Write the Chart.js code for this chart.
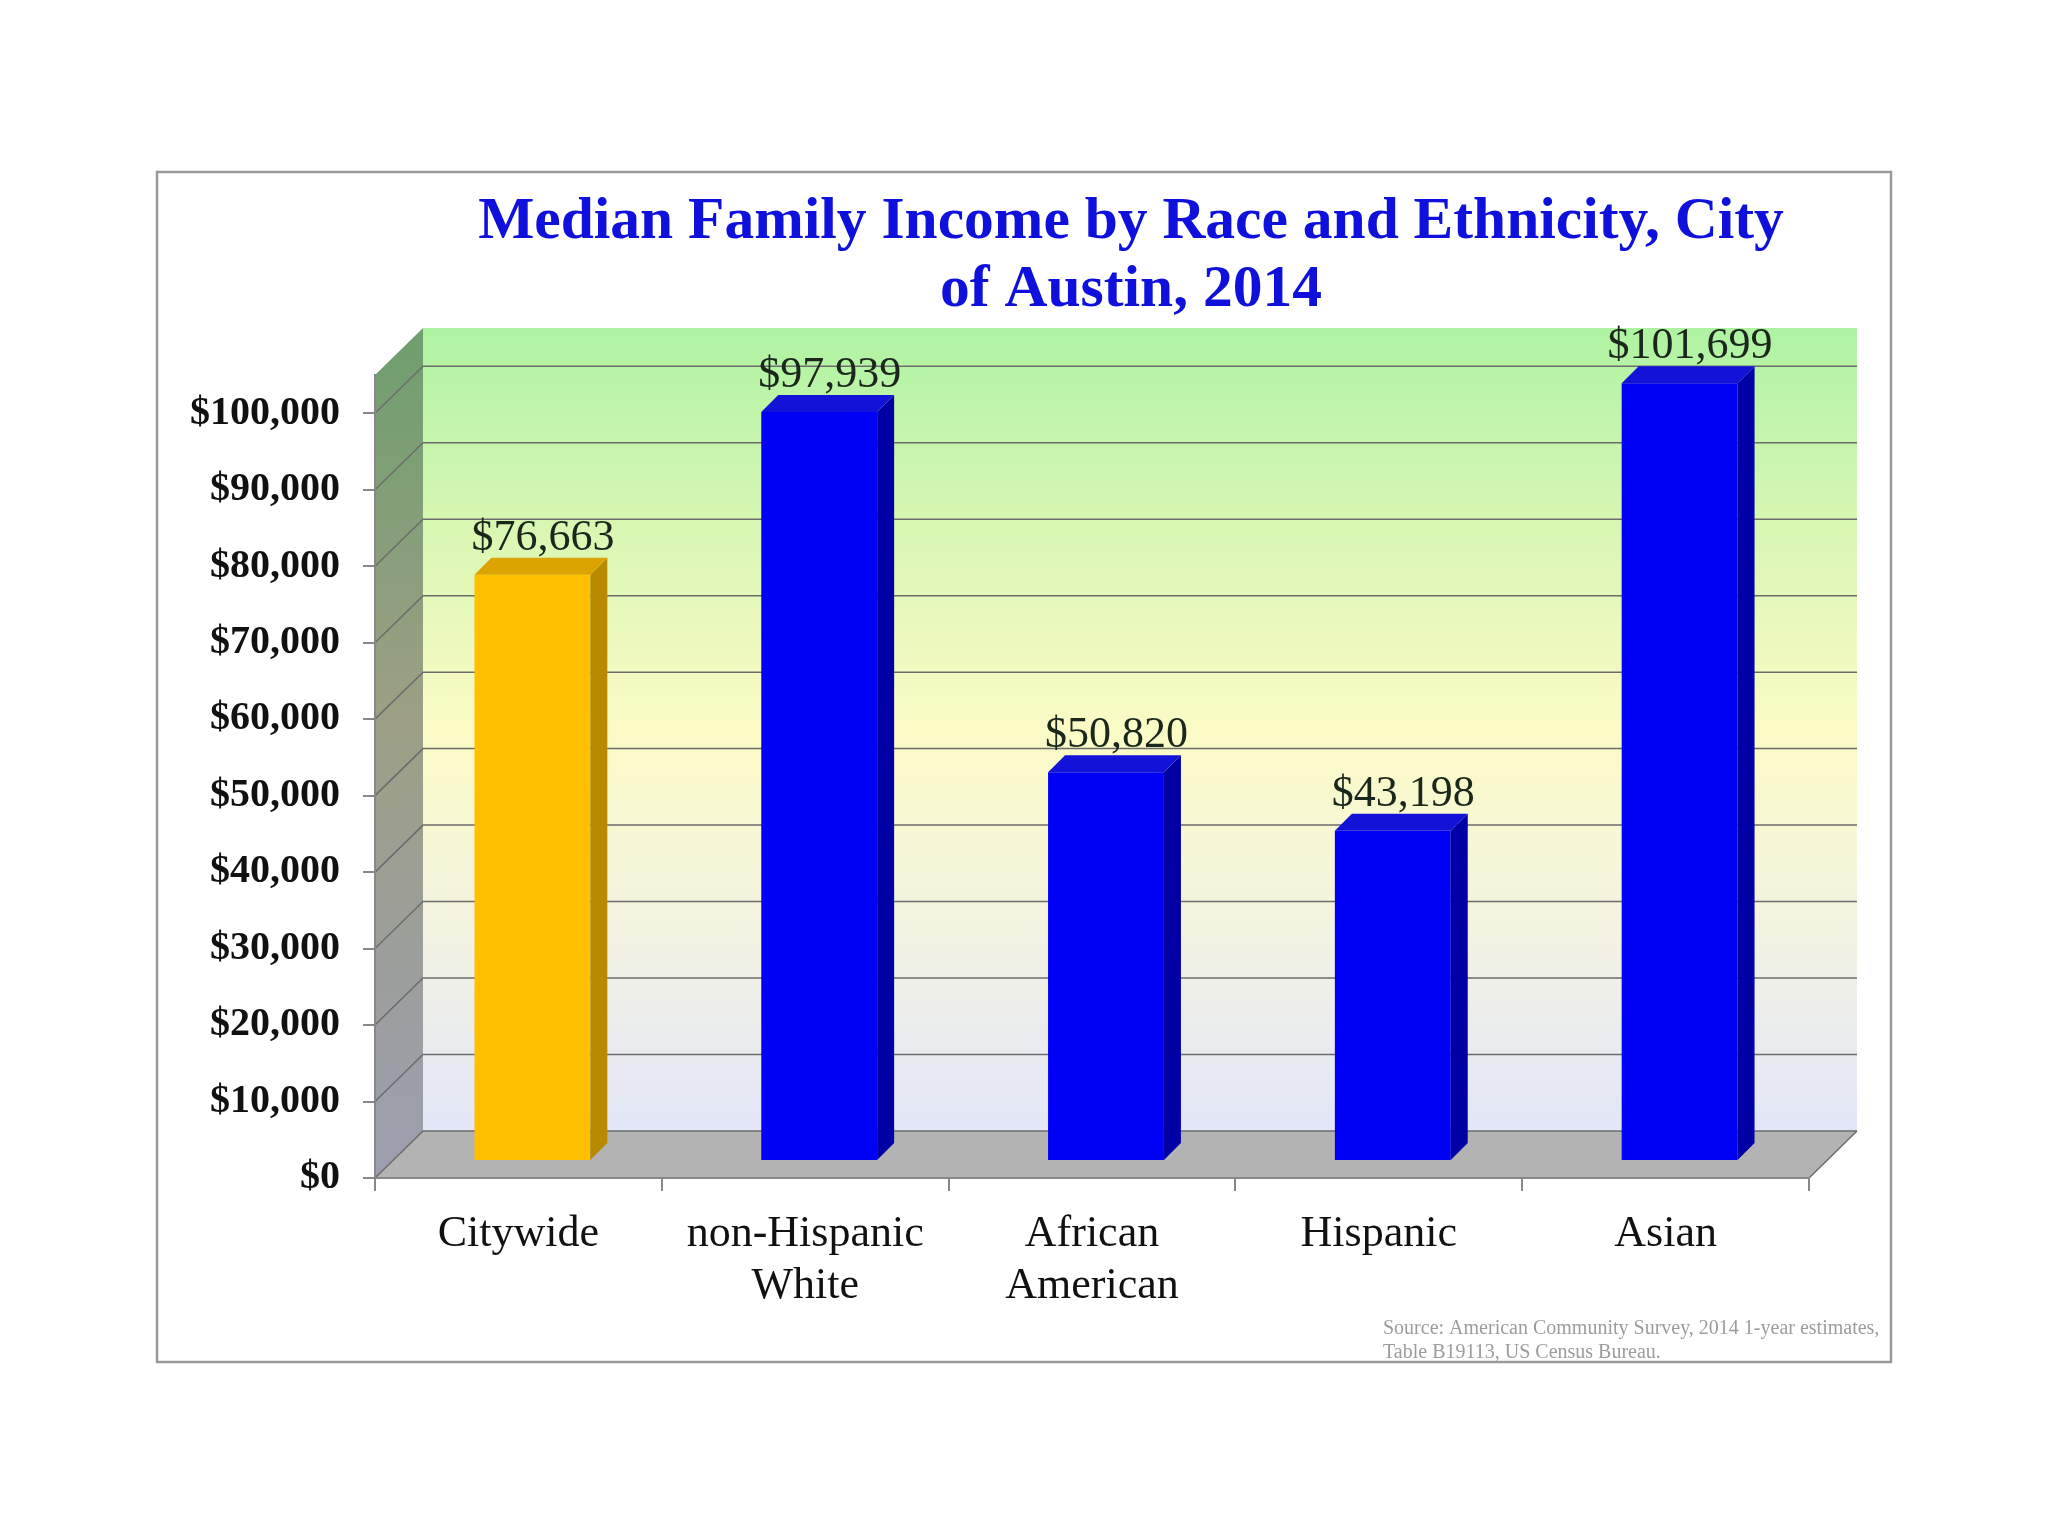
<!DOCTYPE html>
<html>
<head>
<meta charset="utf-8">
<title>Median Family Income by Race and Ethnicity, City of Austin, 2014</title>
<script src="https://cdn.jsdelivr.net/npm/chart.js@4.4.1/dist/chart.umd.min.js"></script>
<style>
  html, body { margin: 0; padding: 0; background: #fff; }
  #wrap { width: 2048px; height: 1536px; }
</style>
</head>
<body>
<div id="wrap"><canvas id="incomeChart" width="2048" height="1536"></canvas></div>
<script>
// data
const categories = [['Citywide'], ['non-Hispanic', 'White'], ['African', 'American'], ['Hispanic'], ['Asian']];
const incomes = [76663, 97939, 50820, 43198, 101699];
const tickValues = [0, 10000, 20000, 30000, 40000, 50000, 60000, 70000, 80000, 90000, 100000];
const titleLines = ['Median Family Income by Race and Ethnicity, City', 'of Austin, 2014'];
const sourceLines = ['Source: American Community Survey, 2014 1-year estimates,', 'Table B19113, US Census Bureau.'];

// styles
const frontColors = ['#ffc000', '#0000f6', '#0000f6', '#0000f6', '#0000f6'];
const sideColors = ['#b88a00', '#0000a4', '#0000a4', '#0000a4', '#0000a4'];
const topColors = ['#dca400', '#1212d8', '#1212d8', '#1212d8', '#1212d8'];
const WALL_DX = 48, WALL_DY = 47;     // depth of the box
const BAR_DX = 14, BAR_DY = 17;       // bars sit a little inside the box
const BAR_DEPTH = 17;

const money = v => '$' + v.toLocaleString('en-US');

const scene3d = {
    id: 'scene3d',
    beforeDraw(chart) {
        const ctx = chart.ctx;
        const area = chart.chartArea;
        const y = chart.scales.y;
        ctx.save();
        ctx.fillStyle = '#fff';
        ctx.fillRect(0, 0, chart.width, chart.height);

        // frame
        ctx.strokeStyle = '#9a9a9a';
        ctx.lineWidth = 2.5;
        ctx.strokeRect(157, 172, 1734, 1190);

        // title
        ctx.fillStyle = '#1010dc';
        ctx.font = 'bold 59.5px "Liberation Serif"';
        ctx.textAlign = 'center';
        ctx.textBaseline = 'middle';
        titleLines.forEach((t, i) => ctx.fillText(t, 1131, 223 + i * 68));

        // source note
        ctx.fillStyle = '#9c9c9c';
        ctx.font = '20px "Liberation Serif"';
        ctx.textAlign = 'left';
        ctx.textBaseline = 'alphabetic';
        sourceLines.forEach((t, i) => ctx.fillText(t, 1383, 1334 + i * 24));

        const top = area.top, bottom = area.bottom, left = area.left, right = area.right;

        // back wall
        const gBack = ctx.createLinearGradient(0, top - WALL_DY, 0, bottom - WALL_DY);
        gBack.addColorStop(0, '#aef3a2');
        gBack.addColorStop(0.25, '#d9f7b2');
        gBack.addColorStop(0.5, '#fbfbc6');
        gBack.addColorStop(0.75, '#f3f3e2');
        gBack.addColorStop(1, '#e2e6f7');
        ctx.fillStyle = gBack;
        ctx.fillRect(left + WALL_DX, top - WALL_DY, right - left, bottom - top);

        // left wall
        const gLeft = ctx.createLinearGradient(0, top - WALL_DY, 0, bottom);
        gLeft.addColorStop(0, '#6e9e6e');
        gLeft.addColorStop(0.45, '#9c9f84');
        gLeft.addColorStop(1, '#9c9eb0');
        ctx.fillStyle = gLeft;
        ctx.beginPath();
        ctx.moveTo(left, top);
        ctx.lineTo(left + WALL_DX, top - WALL_DY);
        ctx.lineTo(left + WALL_DX, bottom - WALL_DY);
        ctx.lineTo(left, bottom);
        ctx.closePath();
        ctx.fill();

        // floor
        ctx.fillStyle = '#b3b3b3';
        ctx.beginPath();
        ctx.moveTo(left, bottom);
        ctx.lineTo(left + WALL_DX, bottom - WALL_DY);
        ctx.lineTo(right + WALL_DX, bottom - WALL_DY);
        ctx.lineTo(right, bottom);
        ctx.closePath();
        ctx.fill();

        // grid lines on both walls
        ctx.strokeStyle = '#6c6c6c';
        ctx.lineWidth = 1.5;
        tickValues.forEach(v => {
            const py = y.getPixelForValue(v);
            ctx.beginPath();
            ctx.moveTo(left, py);
            ctx.lineTo(left + WALL_DX, py - WALL_DY);
            ctx.lineTo(right + WALL_DX, py - WALL_DY);
            ctx.stroke();
        });
        ctx.beginPath();
        ctx.moveTo(right, bottom);
        ctx.lineTo(right + WALL_DX, bottom - WALL_DY);
        ctx.stroke();
        ctx.restore();
    },
    beforeDatasetsDraw(chart) {
        chart.ctx.save();
        chart.ctx.translate(BAR_DX, -BAR_DY);
    },
    afterDatasetsDraw(chart) {
        const ctx = chart.ctx;
        const bars = chart.getDatasetMeta(0).data;
        bars.forEach((bar, i) => {
            const l = bar.x - bar.width / 2, r = bar.x + bar.width / 2;
            const d = BAR_DEPTH;
            ctx.fillStyle = sideColors[i];
            ctx.beginPath();
            ctx.moveTo(r, bar.y);
            ctx.lineTo(r + d, bar.y - d);
            ctx.lineTo(r + d, bar.base - d);
            ctx.lineTo(r, bar.base);
            ctx.closePath();
            ctx.fill();
            ctx.fillStyle = topColors[i];
            ctx.beginPath();
            ctx.moveTo(l, bar.y);
            ctx.lineTo(l + d, bar.y - d);
            ctx.lineTo(r + d, bar.y - d);
            ctx.lineTo(r, bar.y);
            ctx.closePath();
            ctx.fill();
        });
        ctx.restore();

        // value labels
        ctx.save();
        ctx.fillStyle = '#1b271b';
        ctx.font = '44px "Liberation Serif"';
        ctx.textAlign = 'center';
        ctx.textBaseline = 'alphabetic';
        bars.forEach((bar, i) => {
            ctx.fillText(money(incomes[i]), bar.x + BAR_DX + BAR_DEPTH / 2 + 2, bar.y - BAR_DY - BAR_DEPTH - 8);
        });
        ctx.restore();
    }
};

new Chart(document.getElementById('incomeChart'), {
    type: 'bar',
    data: {
        labels: categories,
        datasets: [{
            label: 'Median Family Income',
            data: incomes,
            backgroundColor: frontColors,
            borderWidth: 0,
            categoryPercentage: 1,
            barPercentage: 0.404
        }]
    },
    options: {
        responsive: false,
        animation: false,
        devicePixelRatio: 1,
        layout: {
            padding: { top: 375, right: 239, bottom: 0, left: 0 }
        },
        plugins: {
            legend: { display: false },
            title: { display: false },
            tooltip: { enabled: false }
        },
        scales: {
            x: {
                offset: true,
                grid: { offset: true, drawOnChartArea: false, tickLength: 13, color: '#888', lineWidth: 2 },
                border: { display: true, color: '#888', width: 2 },
                ticks: {
                    color: '#111',
                    padding: 18,
                    font: { family: '"Liberation Serif"', size: 44, lineHeight: 1.17 }
                },
                afterFit(scale) { scale.height = 358; }
            },
            y: {
                min: 0,
                max: 105000,
                grid: { drawOnChartArea: false, tickLength: 12, color: '#888', lineWidth: 2 },
                border: { display: true, color: '#888', width: 2 },
                ticks: {
                    color: '#111',
                    padding: 23,
                    font: { family: '"Liberation Serif"', size: 40, weight: 'bold' },
                    callback: v => money(v)
                },
                afterBuildTicks(scale) { scale.ticks = tickValues.map(v => ({ value: v })); },
                afterFit(scale) { scale.width = 375; }
            }
        }
    },
    plugins: [scene3d]
});
</script>
</body>
</html>
